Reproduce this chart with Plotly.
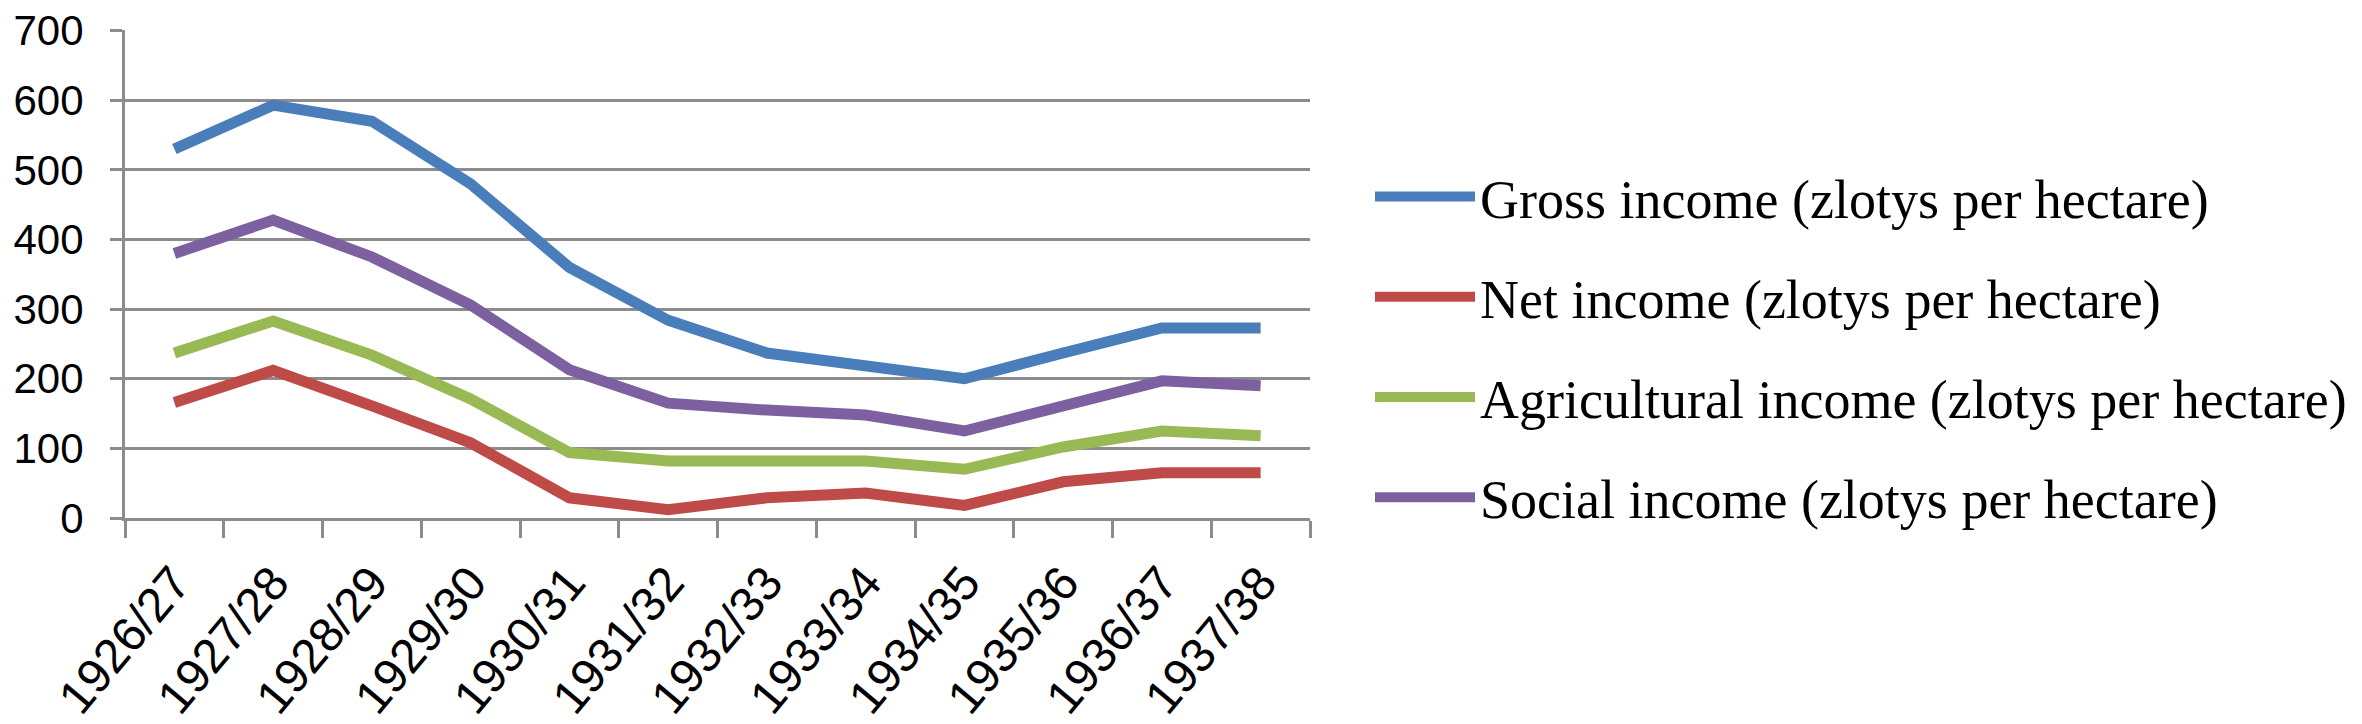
import plotly.graph_objects as go

categories = ["1926/27", "1927/28", "1928/29", "1929/30", "1930/31", "1931/32",
              "1932/33", "1933/34", "1934/35", "1935/36", "1936/37", "1937/38"]
gross = [530, 593, 570, 480, 360, 284, 237, 220, 200, 237, 273, 273]
net = [166, 212, 161, 108, 29, 12, 29, 36, 18, 52, 65, 65]
agricultural = [237, 283, 234, 171, 94, 82, 82, 82, 70, 102, 125, 118]
social = [380, 428, 375, 306, 213, 165, 155, 148, 125, 163, 197, 190]

series_names = ["Gross income (zlotys per hectare)", "Net income (zlotys per hectare)",
                "Agricultural income (zlotys per hectare)", "Social income (zlotys per hectare)"]
series_values = [gross, net, agricultural, social]
series_colors = ["#4A7EBB", "#BE4B48", "#98B954", "#7D60A0"]

W, H = 2362, 724
ML, MR, MT, MB = 117, 1060, 22, 214
YMAX = 701

fig = go.Figure()
for i, (name, vals, col) in enumerate(zip(series_names, series_values, series_colors)):
    fig.add_trace(go.Scatter(
        x=categories, y=vals, mode="lines", name=name,
        line=dict(color=col, width=11), legendgroup=f"g{i}",
    ))

plot_h = H - MT - MB
fig.update_layout(
    width=W, height=H,
    margin=dict(l=ML, r=MR, t=MT, b=MB, pad=0, autoexpand=False),
    paper_bgcolor="white", plot_bgcolor="white",
    showlegend=True,
    legend=dict(
        x=(1362 - ML) / (W - ML - MR), xanchor="left",
        y=(510 - 147) / plot_h, yanchor="top",
        font=dict(family="Liberation Serif", size=54, color="black"),
        bgcolor="rgba(0,0,0,0)", borderwidth=0,
        tracegroupgap=27, itemwidth=100,
    ),
    xaxis=dict(
        type="category", tickson="boundaries", range=[-0.5, len(categories) - 0.5],
        showline=True, linecolor="#8c8c8c", linewidth=3,
        ticks="outside", ticklen=17, tickwidth=3, tickcolor="#8c8c8c",
        showgrid=False, tickangle=-50, automargin=False,
        tickfont=dict(family="Liberation Sans", size=48, color="black"),
        ticklabelstandoff=14,
    ),
    yaxis=dict(
        range=[0, YMAX], tickvals=[0, 100, 200, 300, 400, 500, 600, 700],
        showline=True, linecolor="#8c8c8c", linewidth=3,
        ticks="outside", ticklen=12, tickwidth=3, tickcolor="#8c8c8c",
        showgrid=True, gridcolor="#8c8c8c", gridwidth=3,
        zeroline=False, automargin=False, ticklabeloverflow="allow",
        tickfont=dict(family="Liberation Sans", size=42, color="black"),
        ticklabelstandoff=18,
    ),
)

fig.write_html("out.html")
